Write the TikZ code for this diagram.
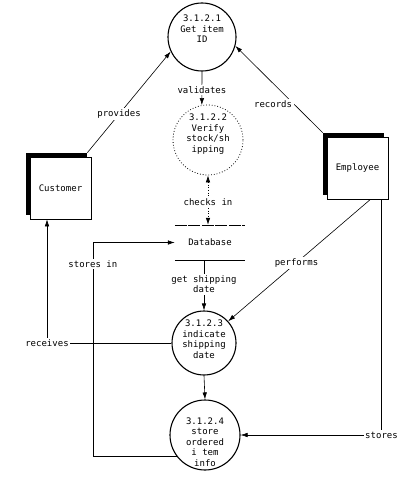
\documentclass[tikz,border=0pt]{standalone}
\usepackage{fontspec}
\setmonofont{DejaVu Sans Mono}
\usetikzlibrary{arrows.meta,positioning,calc,shadows}

\begin{document}
\begin{tikzpicture}[
    x=1pt, y=-1pt,
    font=\ttfamily\fontsize{9}{10.5}\selectfont,
    proc/.style={circle, draw, line width=1.1pt, inner sep=0pt},
    ptext/.style={align=center, inner sep=0pt},
    entity/.style={rectangle, draw, line width=0.7pt, fill=white, minimum width=61pt, minimum height=62pt,
        drop shadow={shadow xshift=-4pt, shadow yshift=4pt, fill=black, opacity=1}},
    flow/.style={-{Latex[length=7pt,width=4.5pt]}, line width=0.6pt},
    bothflow/.style={{Latex[length=7pt,width=4.5pt]}-{Latex[length=7pt,width=4.5pt]}, line width=0.6pt},
    lbl/.style={fill=white, inner sep=1.5pt, align=center}
]
    \useasboundingbox (0,0) rectangle (403,479);

    % Processes
    \node[proc, minimum size=68pt] (p1) at (202,37) {};
    \node[ptext] (p1t) at (202,29) {3.1.2.1\\Get item\\ID};
    \node[proc, minimum size=70pt, line width=0.8pt, dotted] (p2) at (208,140) {};
    \node[ptext] (p2t) at (208,134) {3.1.2.2\\Verify\\stock/sh\\ipping};
    \node[proc, minimum size=64pt] (p3) at (204,343) {};
    \node[ptext] (p3t) at (204,339) {3.1.2.3\\indicate\\shipping\\date};
    \node[proc, minimum size=70pt] (p4) at (205,435) {};
    \node[ptext] (p4t) at (205,442) {3.1.2.4\\store\\ordered\\i tem\\info};

    % Data store
    \node[minimum width=70pt, minimum height=35pt, inner sep=0pt] (db) at (210,242.5) {Database};
    \draw[line width=0.6pt, dash pattern=on 12pt off 1.5pt] (db.north west) -- (db.north east);
    \draw[line width=0.6pt] (db.south west) -- (db.south east);

    % External entities
    \node[entity] (cust) at (60.5,188) {Customer};
    \node[entity] (emp) at (357.5,168) {Employee};

    % Flows
    \draw[flow] ($(cust.north east)+(-4,-4)$) -- node[lbl, pos=0.38] {provides} (p1.205);
    \draw[flow] ($(emp.north west)+(-4,-4)$) -- node[lbl, pos=0.33, anchor=east] {records} (p1.-15);
    \draw[flow] (p1.south) -- node[lbl, pos=0.55] {validates} (p2.100);
    \draw[bothflow, dotted] (p2.south) -- node[lbl, pos=0.55] {checks in} (p2.south |- db.north);
    \draw[flow] (p3.north |- db.south) -- node[lbl, pos=0.48] {get shipping\\date} (p3.north);
    \draw[flow] ($(emp.south)+(13,0)$) -- node[lbl, pos=0.52] {performs} (p3.42);
    \draw[flow] (p3.west) -| node[lbl, pos=0.5] {receives} ($(cust.south)+(-13.5,0)$);
    \draw[flow] (p3.south) -- (p4.north);
    \draw[flow] ($(emp.south)+(24,0)$) |- node[lbl, pos=0.5] {stores} (p4.east);
    \draw[flow] (p4.217) -| node[lbl, pos=0.95] {stores in} ($(db.west)+(-82,0)$) -- (db.west);
\end{tikzpicture}
\end{document}
